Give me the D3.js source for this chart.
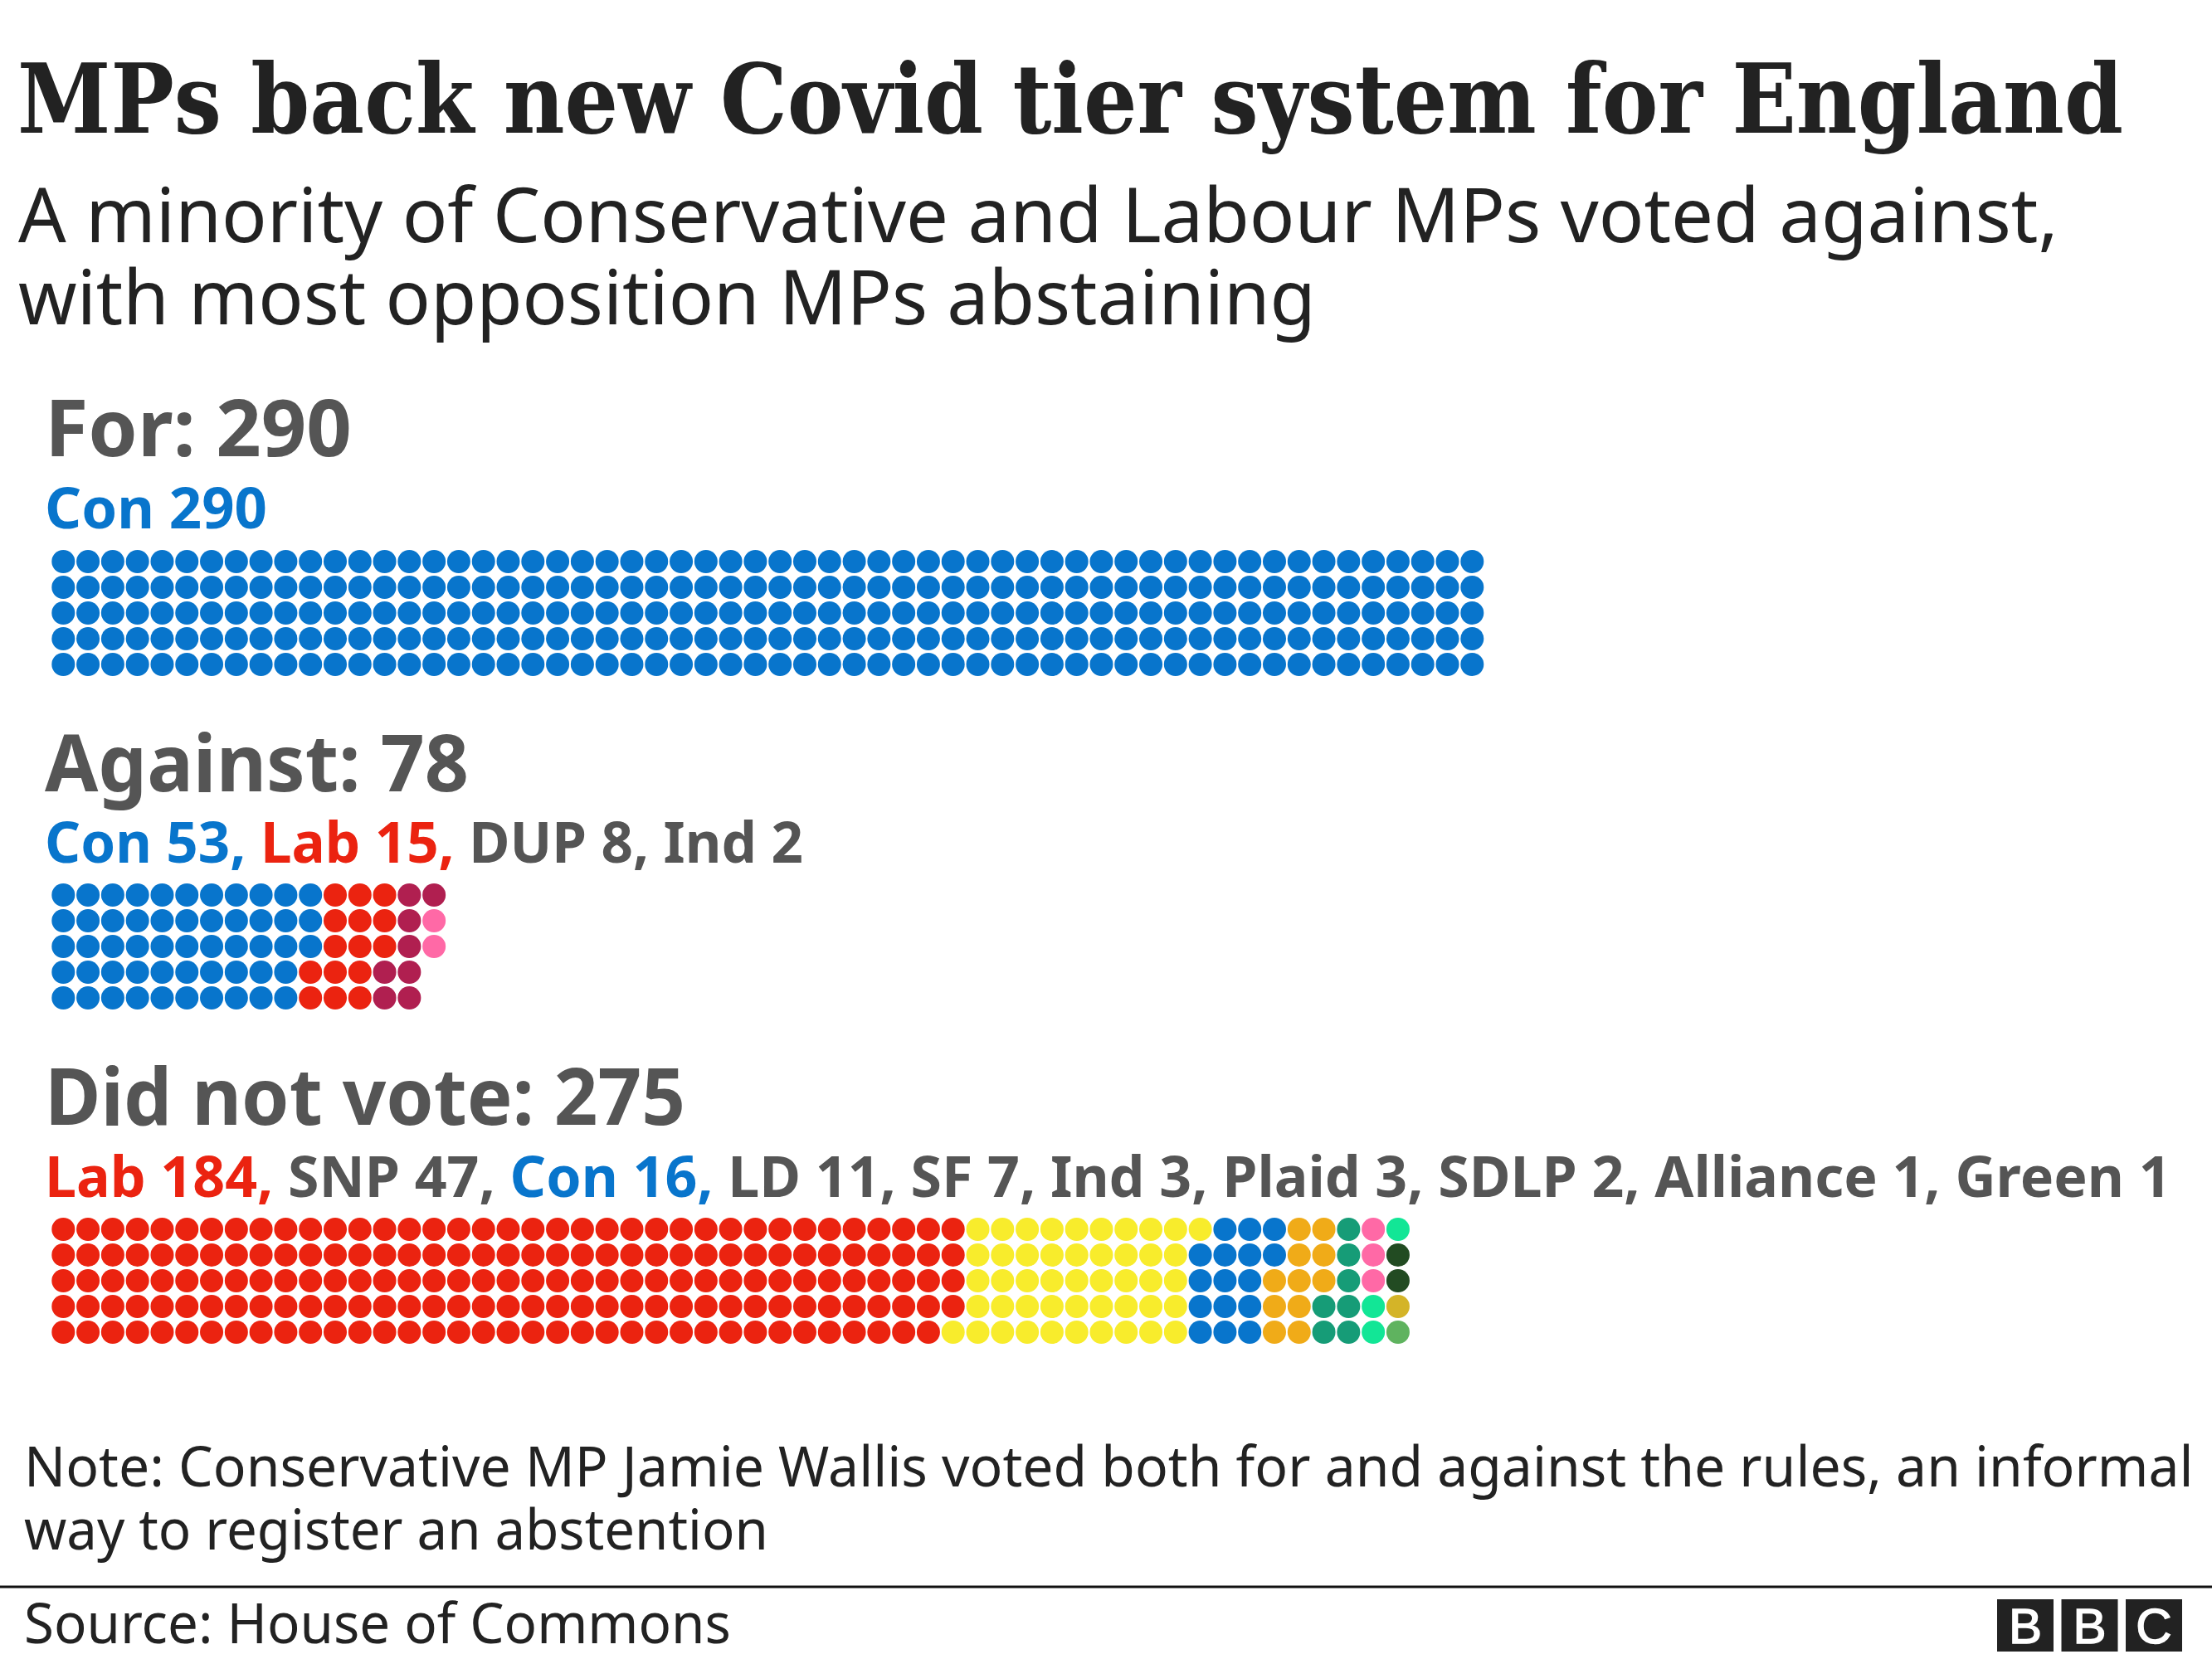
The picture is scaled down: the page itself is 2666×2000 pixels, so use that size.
<!DOCTYPE html>
<html>
<head>
<meta charset="utf-8">
<script src="https://cdn.jsdelivr.net/npm/d3@7"></script>
<style>
  html, body { margin: 0; padding: 0; background: #fff; }
  text { font-family: "Noto Sans", sans-serif; }
</style>
</head>
<body>
<svg id="chart" width="2666" height="2000"></svg>
<script>
// values
var forParties = ["Con"];
var forCounts = [290];
var againstParties = ["Con", "Lab", "DUP", "Ind"];
var againstCounts = [53, 15, 8, 2];
var absentParties = ["Lab", "SNP", "Con", "LD", "SF", "Ind", "Plaid", "SDLP", "Alliance", "Green"];
var absentCounts = [184, 47, 16, 11, 7, 3, 3, 2, 1, 1];

var groupTitles = ["For: 290", "Against: 78", "Did not vote: 275"];

var partyNames = ["Con", "Lab", "DUP", "Ind", "SNP", "LD", "SF", "Plaid", "SDLP", "Alliance", "Green"];
var partyColours = ["#0875cc", "#eb2310", "#b01f50", "#ff69a6", "#f8ec2c", "#f0ab18", "#169c77", "#12e696", "#224b22", "#d4b428", "#5fb35f"];

var titleText = "MPs back new Covid tier system for England";
var subtitleLines = ["A minority of Conservative and Labour MPs voted against,", "with most opposition MPs abstaining"];
var noteLines = ["Note: Conservative MP Jamie Wallis voted both for and against the rules, an informal", "way to register an abstention"];
var sourceText = "Source: House of Commons";

var svg = d3.select("#chart");
var colour = d3.scaleOrdinal().domain(partyNames).range(partyColours);

var rowsPerColumn = 5;
var x = d3.scaleLinear().domain([0, 57]).range([76.3, 1774.3]);
var y = d3.scaleLinear().domain([0, 4]).range([0, 124]);
var dotRadius = 14;

// squeeze a text sideways so it lands on the width seen in the reference
function fitWidth(t, px, py, len) {
    var natural = t.node().getComputedTextLength();
    t.attr("transform", "translate(" + px + "," + py + ") scale(" + (len / natural) + ",1)");
    return t;
}

function addText(str, px, py, size, weight, fill, len) {
    var t = svg.append("text")
        .attr("font-size", size)
        .attr("font-weight", weight)
        .attr("fill", fill)
        .text(str);
    return t;
}

fitWidth(addText(titleText, 0, 0, 116, 700, "#222222").style("font-family", "'DejaVu Serif', serif"), 21, 160, 2538);
fitWidth(addText(subtitleLines[0], 0, 0, 91, 400, "#222222"), 22, 292, 2459);
fitWidth(addText(subtitleLines[1], 0, 0, 91, 400, "#222222"), 22, 391, 1564);

function drawGroup(index, parties, counts, headY, headLen, labelY, dotY, labelLen) {
    fitWidth(addText(groupTitles[index], 0, 0, 95, 700, "#555555"), 54, headY, headLen);

    // party list under the heading, only Con and Lab are coloured
    var label = svg.append("text")
        .attr("font-size", 68)
        .attr("font-weight", 700);
    parties.forEach(function(p, i) {
        var isMain = p == "Con" || p == "Lab";
        var end = i < parties.length - 1 ? ", " : "";
        label.append("tspan")
            .attr("fill", isMain ? colour(p) : "#555555")
            .text(p + " " + counts[i] + end);
    });
    fitWidth(label, 54, labelY, labelLen);

    var seats = [];
    parties.forEach(function(p, i) {
        d3.range(counts[i]).forEach(function() { seats.push(p); });
    });

    svg.append("g")
        .attr("transform", "translate(0," + dotY + ")")
        .selectAll("circle")
        .data(seats)
        .join("circle")
        .attr("cx", function(d, i) { return x(Math.floor(i / rowsPerColumn)); })
        .attr("cy", function(d, i) { return y(i % rowsPerColumn); })
        .attr("r", dotRadius)
        .attr("fill", function(d) { return colour(d); });
}

drawGroup(0, forParties, forCounts, 550, 370, 637, 677, 268);
drawGroup(1, againstParties, againstCounts, 954, 511, 1040, 1079, 914);
drawGroup(2, absentParties, absentCounts, 1356, 772, 1443, 1482, 2563);

fitWidth(addText(noteLines[0], 0, 0, 67, 400, "#222222"), 29, 1792, 2615);
fitWidth(addText(noteLines[1], 0, 0, 67, 400, "#222222"), 29, 1868, 897);

svg.append("line")
    .attr("x1", 0).attr("x2", 2666)
    .attr("y1", 1913).attr("y2", 1913)
    .attr("stroke", "#111111")
    .attr("stroke-width", 3);

fitWidth(addText(sourceText, 0, 0, 67, 400, "#222222"), 29, 1981, 852);

// logo blocks
var logoLetters = ["B", "B", "C"];
var logoX = d3.scaleLinear().domain([0, 2]).range([2407, 2562]);
var logo = svg.append("g").selectAll("g").data(logoLetters).join("g")
    .attr("transform", function(d, i) { return "translate(" + logoX(i) + ",1928)"; });
logo.append("rect").attr("width", 68).attr("height", 63).attr("fill", "#222222");
logo.append("text")
    .attr("x", 34)
    .attr("y", 53)
    .attr("text-anchor", "middle")
    .attr("font-size", 60)
    .attr("font-weight", 400)
    .attr("fill", "#ffffff")
    .attr("stroke", "#ffffff")
    .attr("stroke-width", 1.5)
    .style("font-family", "'Liberation Sans', sans-serif")
    .text(function(d) { return d; });
</script>
</body>
</html>
